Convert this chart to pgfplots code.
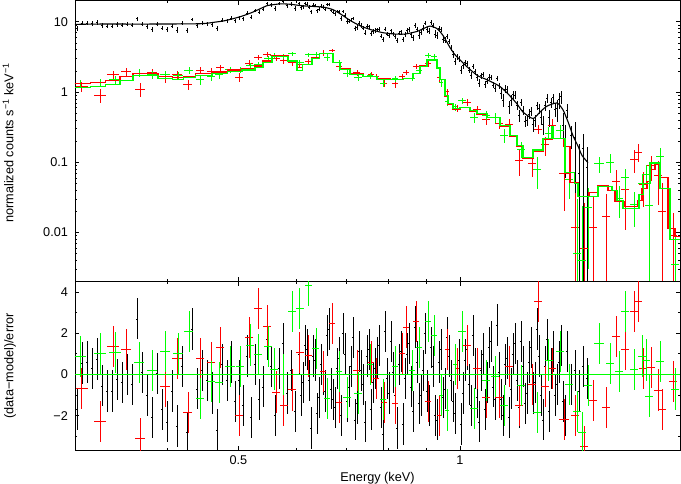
\documentclass[border=0pt]{standalone}
\usepackage{fontspec}
\setmainfont{Liberation Sans}
\usepackage{pgfplots}
\usepackage{pgfplotstable}
\pgfplotsset{compat=1.18}

\pgfplotstableread{
E dx F ep em r
0.3019 0.0012 8.10 0.64 0.64 -1.7
0.3067 0.0012 9.60 0.65 0.65 0.55
0.3115 0.0012 9.60 0.65 0.65 0.6
0.3164 0.0012 9.50 0.65 0.65 0.3
0.3214 0.0012 9.80 0.65 0.65 0.75
0.3265 0.0012 8.94 0.65 0.65 -0.55
0.3316 0.0012 8.78 0.65 0.65 -0.8
0.3369 0.0012 8.78 0.65 0.65 -0.8
0.3422 0.0012 9.14 0.65 0.65 -0.25
0.3476 0.0012 9.04 0.65 0.65 -0.4
0.3531 0.0012 9.30 0.65 0.65 0.0
0.3586 0.0012 8.97 0.65 0.65 -0.5
0.3643 0.0012 11.06 0.65 0.65 2.7
0.3700 0.0012 9.37 0.65 0.65 0.1
0.3759 0.0012 8.65 0.65 0.65 -1.0
0.3818 0.0012 7.93 0.65 0.65 -2.1
0.3878 0.0012 9.33 0.65 0.65 0.05
0.3939 0.0012 8.20 0.65 0.65 -1.7
0.4001 0.0012 7.80 0.65 0.65 -2.3
0.4064 0.0012 8.78 0.65 0.65 -0.8
0.4128 0.0012 7.67 0.65 0.65 -2.5
0.4194 0.0012 9.56 0.65 0.65 0.4
0.4260 0.0012 7.52 0.65 0.65 -2.8
0.4327 0.0012 10.79 0.65 0.65 2.2
0.4395 0.0012 8.94 0.66 0.66 -0.7
0.4465 0.0012 9.58 0.66 0.66 0.2
0.4535 0.0012 9.40 0.67 0.67 -0.3
0.4606 0.0012 9.18 0.69 0.69 -0.9
0.4679 0.0012 8.10 0.70 0.70 -2.7
0.4753 0.0012 10.66 0.72 0.72 0.5
0.4828 0.0012 10.38 0.74 0.74 -0.3
0.4888 0.002 11.40 0.66 0.66 0.6
0.4950 0.002 10.42 0.68 0.68 -1.3
0.5012 0.002 11.49 0.70 0.70 -0.3
0.5075 0.002 11.10 0.73 0.73 -1.5
0.5139 0.002 13.39 0.76 0.76 0.9
0.5203 0.002 11.62 0.80 0.80 -2.1
0.5269 0.002 14.42 0.84 0.84 0.5
0.5335 0.002 13.73 0.89 0.89 -1.2
0.5402 0.002 15.13 0.94 0.94 -0.6
0.5470 0.002 18.18 0.99 0.99 1.7
0.5539 0.002 17.51 1.03 1.03 0.4
0.5609 0.002 15.49 1.06 1.06 -2.0
0.5679 0.002 18.32 1.08 1.08 0.3
0.5751 0.002 19.62 1.08 1.08 1.5
0.5823 0.002 16.93 1.07 1.07 -0.9
0.5896 0.002 17.91 1.06 1.06 0.2
0.5971 0.002 15.52 1.04 1.04 -1.8
0.6046 0.002 18.13 1.03 1.03 1.0
0.6122 0.002 16.49 1.01 1.01 -0.4
0.6199 0.002 17.90 1.00 1.00 1.2
0.6277 0.002 13.93 0.99 0.99 -2.6
0.6356 0.002 17.09 0.98 0.98 0.7
0.6436 0.002 15.22 0.98 0.98 -1.1
0.6517 0.002 16.20 0.97 0.97 0.0
0.6599 0.002 17.60 0.95 0.95 1.9
0.6682 0.002 14.56 0.91 0.91 -0.7
0.6766 0.002 13.11 0.87 0.87 -1.6
0.6851 0.002 13.94 0.80 0.80 0.8
0.6937 0.002 14.02 0.86 0.86 2.0
0.7024 0.002 10.18 0.78 0.78 -1.3
0.7112 0.002 10.59 0.72 0.72 0.4
0.7202 0.002 8.12 0.67 0.67 -2.2
0.7292 0.002 9.69 0.63 0.63 1.1
0.7384 0.002 8.20 0.60 0.60 -0.5
0.7477 0.002 8.61 0.57 0.57 0.9
0.7571 0.0025 6.78 0.54 0.54 -1.7
0.7667 0.0025 7.56 0.52 0.52 0.3
0.7763 0.0025 7.91 0.50 0.50 1.4
0.7861 0.0025 5.58 0.49 0.49 -2.9
0.7960 0.0025 6.75 0.48 0.48 -0.2
0.8060 0.0025 7.51 0.47 0.47 1.6
0.8161 0.0025 6.23 0.47 0.47 -1.0
0.8264 0.0025 6.93 0.47 0.47 0.5
0.8368 0.0025 5.57 0.47 0.47 -2.4
0.8473 0.0025 7.48 0.68 0.68 1.0
0.8580 0.0025 6.58 0.70 0.70 -0.6
0.8688 0.0025 8.86 0.72 0.72 2.3
0.8797 0.0025 6.54 0.76 0.76 -1.4
0.8908 0.0025 8.16 0.80 0.80 0.2
0.9020 0.0025 7.73 0.84 0.84 -0.8
0.9133 0.0025 9.83 0.87 0.87 1.3
0.9248 0.0025 6.72 0.84 0.84 -2.0
0.9365 0.0025 8.06 0.76 0.76 0.6
0.9483 0.0025 5.70 0.64 0.64 -1.1
0.9602 0.0025 6.25 0.53 0.53 1.8
0.9723 0.0025 4.27 0.44 0.44 -0.3
0.9845 0.0025 2.75 0.34 0.34 -1.9
0.9969 0.0025 3.00 0.28 0.28 0.7
1.0094 0.0035 2.37 0.26 0.26 -0.9
1.0221 0.0035 2.58 0.23 0.23 1.2
1.0350 0.0035 1.74 0.205 0.205 -1.5
1.0480 0.0035 1.96 0.19 0.19 0.3
1.0612 0.0035 1.35 0.175 0.175 -2.3
1.0745 0.0035 1.78 0.162 0.162 1.0
1.0880 0.0035 1.44 0.15 0.15 -0.4
1.1017 0.0035 1.62 0.14 0.14 1.6
1.1156 0.0035 1.14 0.13 0.13 -1.2
1.1296 0.0035 1.23 0.122 0.122 0.1
1.1438 0.0035 0.77 0.165 0.165 -2.0
1.1582 0.0035 1.09 0.146 0.146 0.8
1.1728 0.0035 0.77 0.129 0.129 -0.7
1.1876 0.0035 0.91 0.111 0.111 1.5
1.2025 0.0035 0.47 0.093 0.093 -1.6
1.2176 0.0035 0.55 0.078 0.078 0.4
1.2329 0.0035 0.40 0.069 0.069 -0.9
1.2484 0.0035 0.53 0.077 0.077 1.3
1.2641 0.0035 0.40 0.077 0.077 -0.4
1.2800 0.0035 0.58 0.09 0.09 0.9
1.2961 0.0035 0.35 0.104 0.104 -2.2
1.3124 0.0035 0.82 0.113 0.113 1.7
1.3290 0.0035 0.71 0.12 0.12 0.3
1.3457 0.0035 0.57 0.126 0.126 -1.0
1.3626 0.0035 0.78 0.20 0.20 0.6
1.3798 0.0035 0.34 0.17 0.17 -1.3
1.3971 0.0035 0.55 0.12 0.12 1.1
1.4147 0.0035 0.24 0.084 0.084 -0.5
1.4325 0.0035 0.23 0.14 0.2295 0.2
1.4505 0.0035 0.07 0.11 0.0695 -0.8
1.4688 0.0035 0.16 0.09 0.1595 0.4
1.4872 0.0035 0.086 0.08 0.0855 -0.2
0.6084 0.002 15.98 1.02 1.02 -1.0
0.6160 0.002 18.21 1.01 1.01 1.4
0.6238 0.002 16.30 1.00 1.00 -0.3
0.6316 0.002 17.34 0.99 0.99 0.9
0.6396 0.002 14.49 0.98 0.98 -1.9
0.6476 0.002 16.74 0.97 0.97 0.5
0.6558 0.002 15.23 0.96 0.96 -0.8
0.6640 0.002 17.55 0.93 0.93 2.2
0.6724 0.002 13.83 0.89 0.89 -1.2
0.6808 0.002 14.15 0.83 0.83 0.3
0.6894 0.002 11.12 0.84 0.84 -2.0
0.6980 0.002 12.52 0.82 0.82 1.0
0.7068 0.002 10.25 0.75 0.75 -0.6
0.7157 0.002 11.14 0.69 0.69 1.8
0.7247 0.002 8.39 0.65 0.65 -1.4
0.7338 0.002 8.87 0.61 0.61 0.2
0.7430 0.002 6.97 0.58 0.58 -2.3
0.7524 0.0025 8.56 0.55 0.55 1.2
0.7619 0.0025 7.34 0.53 0.53 -0.4
0.7715 0.0025 7.71 0.51 0.51 0.8
0.7812 0.0025 6.30 0.50 0.50 -1.6
0.7910 0.0025 7.93 0.48 0.48 2.1
0.8010 0.0025 6.37 0.48 0.48 -0.9
0.8110 0.0025 6.77 0.47 0.47 0.1
0.8212 0.0025 5.48 0.47 0.47 -2.6
0.8316 0.0025 7.22 0.47 0.47 1.1
0.8420 0.0025 6.63 0.60 0.60 -0.2
0.8526 0.0025 7.83 0.62 0.62 1.5
0.8634 0.0025 5.95 0.64 0.64 -1.8
0.8742 0.0025 7.80 0.67 0.67 0.6
0.8852 0.0025 7.10 0.70 0.70 -1.0
0.8964 0.0025 9.68 0.74 0.74 2.0
0.9076 0.0025 7.39 0.77 0.77 -1.5
0.9190 0.0025 8.86 0.77 0.77 0.4
0.9306 0.0025 6.42 0.72 0.72 -2.2
0.9424 0.0025 7.76 0.63 0.63 1.2
0.9542 0.0025 5.48 0.53 0.53 -0.7
0.9662 0.0025 5.25 0.44 0.44 0.9
0.9784 0.0025 3.44 0.35 0.35 -1.3
0.9907 0.0025 3.19 0.29 0.29 0.3
1.0031 0.0035 2.05 0.27 0.27 -2.4
1.0157 0.0035 2.63 0.25 0.25 0.7
1.0285 0.0035 2.06 0.22 0.22 -0.5
1.0415 0.0035 2.35 0.20 0.20 1.9
1.0546 0.0035 1.62 0.18 0.18 -1.1
1.0678 0.0035 1.71 0.17 0.17 0.2
1.0812 0.0035 1.29 0.16 0.16 -1.7
1.0948 0.0035 1.64 0.145 0.145 1.3
1.1086 0.0035 1.27 0.135 0.135 -0.6
1.1226 0.0035 1.56 0.126 0.126 2.4
1.1367 0.0035 0.96 0.17 0.17 -1.2
1.1510 0.0035 1.11 0.155 0.155 0.5
1.1655 0.0035 0.62 0.137 0.137 -2.1
1.1802 0.0035 0.92 0.12 0.12 1.0
1.1950 0.0035 0.65 0.10 0.10 -0.3
1.2100 0.0035 0.71 0.085 0.085 1.6
1.2252 0.0035 0.39 0.074 0.074 -1.4
1.2406 0.0035 0.49 0.08 0.08 0.6
1.2563 0.0035 0.35 0.076 0.076 -0.9
1.2720 0.0035 0.64 0.083 0.083 2.2
1.2880 0.0035 0.44 0.097 0.097 -1.0
1.3042 0.0035 0.64 0.108 0.108 0.4
1.3207 0.0035 0.44 0.117 0.117 -1.8
1.3373 0.0035 0.83 0.124 0.124 1.1
1.3541 0.0035 0.58 0.20 0.20 -0.5
1.3712 0.0035 0.86 0.18 0.18 1.4
1.3884 0.0035 0.20 0.14 0.14 -2.0
}\blackdata

\pgfplotstableread{
E dx F ep em r
0.3066 0.006 1.19 0.20 0.20 -0.7
0.3245 0.006 0.89 0.20 0.20 -2.3
0.3379 0.006 1.78 0.22 0.22 1.35
0.3519 0.006 1.94 0.23 0.23 1.2
0.3677 0.006 1.10 0.26 0.26 -3.1
0.3817 0.006 1.90 0.24 0.24 0.2
0.3976 0.006 1.56 0.22 0.22 -0.6
0.4128 0.006 1.76 0.21 0.21 0.78
0.4272 0.006 1.28 0.22 0.22 -1.85
0.4436 0.006 2.02 0.22 0.22 0.78
0.4591 0.006 1.98 0.22 0.22 0.57
0.4722 0.006 2.23 0.23 0.23 1.3
0.5011 0.007 1.61 0.23 0.23 -2.0
0.5169 0.007 2.59 0.24 0.24 1.8
0.5317 0.007 3.10 0.24 0.24 3.2
0.5469 0.007 3.42 0.28 0.28 2.35
0.5624 0.007 3.02 0.29 0.29 -0.85
0.5765 0.007 2.83 0.29 0.29 -1.5
0.5913 0.007 2.64 0.25 0.25 -0.75
0.6062 0.007 2.47 0.22 0.22 1.08
0.6235 0.007 2.71 0.25 0.25 0.9
0.6515 0.007 3.59 0.32 0.32 0.16
0.6701 0.007 3.95 0.18 0.18 2.48
0.6850 0.007 2.28 0.26 0.26 -1.35
0.7246 0.008 1.89 0.19 0.19 0.2
0.7573 0.008 1.79 0.17 0.17 0.6
0.7693 0.008 1.66 0.17 0.17 -0.2
0.7886 0.008 1.34 0.16 0.16 -1.35
0.8162 0.008 1.31 0.15 0.15 -1.4
0.8343 0.008 1.67 0.15 0.15 1.0
0.8448 0.008 1.93 0.16 0.16 2.3
0.8715 0.008 2.32 0.19 0.19 2.56
0.9048 0.008 2.52 0.26 0.26 -1.3
0.9364 0.007 1.60 0.20 0.20 -2.0
0.9601 0.007 1.01 0.11 0.11 1.2
0.9906 0.007 0.59 0.074 0.074 0.3
1.0221 0.012 0.71 0.078 0.078 1.4
1.0546 0.012 0.56 0.075 0.075 0.3
1.0847 0.012 0.41 0.067 0.067 -1.1
1.1298 0.014 0.36 0.065 0.065 -1.1
1.1655 0.014 0.35 0.06 0.06 0.4
1.2027 0.014 0.106 0.043 0.043 -1.5
1.2524 0.015 0.095 0.034 0.034 -0.5
1.2762 0.015 0.297 0.043 0.043 3.55
1.3043 0.015 0.178 0.053 0.053 -0.6
1.3333 0.015 0.33 0.078 0.078 0.3
1.3843 0.02 0.07 0.05 0.05 -2.17
1.4328 0.02 0.012 0.025 0.0115 -2.0
1.4739 0.02 0.006 0.02 0.0055 -3.5
1.5159 0.02 0.012 0.02 0.0115 -1.25
1.5788 0.022 0.017 0.019 0.0165 -1.6
1.6289 0.022 0.054 0.025 0.025 1.83
1.6753 0.022 0.041 0.03 0.03 1.23
1.7232 0.022 0.11 0.04 0.04 3.07
1.7449 0.022 0.14 0.04 0.04 3.55
1.7728 0.022 0.048 0.025 0.025 0.3
1.8173 0.022 0.09 0.035 0.035 0.33
1.8575 0.022 0.065 0.04 0.04 -0.76
1.8810 0.022 0.02 0.03 0.0195 -1.7
1.9468 0.022 0.009 0.01 0.0085 -0.36
}\reddata

\pgfplotstableread{
E dx F ep em r
0.3047 0.006 1.31 0.17 0.17 0.88
0.3245 0.006 1.37 0.18 0.18 1.0
0.3401 0.006 1.49 0.19 0.19 1.05
0.3666 0.006 1.87 0.24 0.24 0.58
0.3817 0.006 1.78 0.24 0.24 0.2
0.3976 0.006 1.79 0.20 0.20 1.1
0.4141 0.006 1.72 0.20 0.20 1.0
0.4285 0.006 2.03 0.21 0.21 2.07
0.4436 0.006 1.49 0.21 0.21 -1.15
0.4591 0.006 1.66 0.21 0.21 -0.35
0.4707 0.006 1.76 0.22 0.22 -0.4
0.4872 0.007 2.08 0.22 0.22 0.4
0.5026 0.007 2.07 0.22 0.22 0.37
0.5186 0.007 2.38 0.23 0.23 1.43
0.5317 0.007 2.45 0.22 0.22 0.98
0.5487 0.007 2.99 0.26 0.26 1.35
0.5590 0.007 3.27 0.29 0.29 0.26
0.5765 0.007 3.20 0.29 0.29 0.0
0.5913 0.007 3.50 0.25 0.25 3.05
0.6062 0.007 2.64 0.20 0.20 3.2
0.6235 0.007 3.40 0.22 0.22 4.3
0.6374 0.007 3.40 0.27 0.27 1.26
0.6597 0.007 3.13 0.32 0.32 -1.17
0.6850 0.007 2.63 0.26 0.26 0.13
0.7024 0.008 1.86 0.21 0.21 -1.13
0.7270 0.008 1.64 0.18 0.18 -0.9
0.7549 0.008 1.73 0.17 0.17 0.5
0.7861 0.008 1.34 0.15 0.15 -1.2
0.8161 0.008 1.56 0.15 0.15 0.4
0.8606 0.008 1.58 0.155 0.155 0.2
0.8797 0.008 2.06 0.18 0.18 1.3
0.9048 0.008 3.30 0.26 0.26 2.56
0.9220 0.008 3.20 0.26 0.26 1.9
0.9423 0.007 1.35 0.15 0.15 -1.0
0.9601 0.007 0.73 0.10 0.10 -1.73
0.9845 0.007 0.615 0.07 0.07 0.5
1.0063 0.012 0.75 0.072 0.072 2.07
1.0450 0.012 0.43 0.072 0.072 -1.65
1.0847 0.012 0.47 0.069 0.069 -0.28
1.1156 0.013 0.43 0.066 0.066 -0.1
1.1476 0.014 0.245 0.056 0.056 -1.52
1.2100 0.014 0.155 0.039 0.039 -0.52
1.2721 0.015 0.08 0.038 0.038 -1.85
1.3207 0.015 0.26 0.055 0.055 0.7
1.3670 0.016 0.28 0.055 0.055 1.1
1.4061 0.018 0.058 0.028 0.028 -0.47
1.4420 0.02 0.005 0.025 0.0045 -1.8
1.4647 0.02 0.004 0.02 0.0035 -2.82
1.4924 0.02 0.023 0.02 0.02 -0.52
1.5446 0.022 0.095 0.025 0.025 1.5
1.5985 0.022 0.10 0.03 0.03 0.53
1.6441 0.022 0.031 0.015 0.015 0.13
1.6753 0.022 0.06 0.02 0.02 3.05
1.7232 0.022 0.025 0.013 0.013 0.24
1.7668 0.022 0.05 0.018 0.018 0.89
1.7890 0.022 0.068 0.025 0.025 0.7
1.8058 0.022 0.024 0.025 0.0235 -1.05
1.8691 0.022 0.12 0.04 0.04 0.62
1.9590 0.022 0.0035 0.006 0.003 -0.71
}\greendata

\pgfplotstableread{
E M
0.3000 9.2
0.3244 9.3
0.3794 9.3
0.4436 9.4
0.4648 9.9
0.4797 10.4
0.5026 11.8
0.5219 13.6
0.5384 15.8
0.5469 17.0
0.5696 18.0
0.5877 17.8
0.6119 16.9
0.6515 16.2
0.6722 14.9
0.6893 12.8
0.7090 10.5
0.7315 8.8
0.7549 7.8
0.7861 7.0
0.8161 6.7
0.8422 6.7
0.8742 7.3
0.8963 8.2
0.9105 8.7
0.9307 8.0
0.9482 6.4
0.9693 4.3
0.9845 3.4
1.0094 2.6
1.0317 2.1
1.0579 1.7
1.0880 1.5
1.1333 1.2
1.1693 0.88
1.1950 0.68
1.2176 0.52
1.2563 0.42
1.2842 0.52
1.3124 0.63
1.3544 0.70
1.3798 0.56
1.4016 0.38
1.4238 0.24
1.4465 0.17
1.4647 0.125
1.4924 0.099
}\blackmodel

\pgfplotstableread{
E M
0.3000 1.33
0.3145 1.36
0.3296 1.48
0.3454 1.66
0.3597 1.85
0.3890 1.69
0.4064 1.60
0.4207 1.69
0.4367 1.85
0.4605 1.93
0.4827 2.06
0.5058 2.16
0.5268 2.35
0.5401 2.77
0.5555 3.27
0.5840 2.83
0.6006 2.23
0.6119 2.49
0.6295 3.10
0.6454 3.54
0.6722 2.63
0.6871 2.16
0.7090 1.85
0.7384 1.69
0.7716 1.55
0.8034 1.52
0.8369 1.57
0.8633 1.85
0.8825 2.35
0.9020 2.86
0.9307 2.23
0.9394 1.52
0.9542 0.88
0.9632 0.667
0.9782 0.566
1.0000 0.60
1.0317 0.535
1.0546 0.48
1.0880 0.43
1.1333 0.327
1.1693 0.235
1.1950 0.17
1.2176 0.112
1.2563 0.144
1.2963 0.21
1.3333 0.31
1.3414 0.22
1.3843 0.17
1.4105 0.051
1.4465 0.033
1.4971 0.037
1.5398 0.0465
1.5885 0.040
1.6236 0.028
1.6700 0.0235
1.7449 0.029
1.7668 0.042
1.7946 0.053
1.8115 0.079
1.8401 0.093
1.8691 0.060
1.9165 0.0116
1.9590 0.0088
1.9900 0.0088
}\redmodel

\pgfplotstableread{
E M
0.3000 1.155
0.3145 1.19
0.3296 1.29
0.3454 1.48
0.3597 1.73
0.3890 1.57
0.4064 1.52
0.4207 1.60
0.4367 1.73
0.4605 1.85
0.4827 1.99
0.5058 2.06
0.5268 2.23
0.5401 2.63
0.5555 3.20
0.5840 2.77
0.6006 2.00
0.6119 2.45
0.6295 3.05
0.6454 3.50
0.6722 2.60
0.6871 2.10
0.7090 1.80
0.7384 1.65
0.7716 1.52
0.8034 1.50
0.8369 1.55
0.8633 1.82
0.8825 2.30
0.9020 2.86
0.9307 2.20
0.9394 1.50
0.9542 0.90
0.9632 0.68
0.9782 0.58
1.0000 0.60
1.0317 0.55
1.0546 0.49
1.0880 0.44
1.1333 0.33
1.1693 0.24
1.1950 0.175
1.2176 0.118
1.2563 0.15
1.2963 0.22
1.3333 0.32
1.3414 0.22
1.3886 0.071
1.4325 0.050
1.4465 0.033
1.5398 0.045
1.6085 0.040
1.6338 0.029
1.6648 0.022
1.7503 0.035
1.7728 0.050
1.8115 0.098
1.8691 0.042
1.9285 0.008
1.9900 0.008
}\greenmodel

\begin{document}
\begin{tikzpicture}[x=1pt,y=1pt]
\begin{axis}[
  scale only axis, width=605pt, height=281pt,
  at={(75pt,202.3pt)}, anchor=south west,
  xmode=log, ymode=log,
  xmin=0.3, xmax=1.99, ymin=0.002, ymax=20,
  axis line style={line width=0.9pt},
  major tick length=4.5pt, minor tick length=2.5pt,
  every tick/.style={black, line width=0.7pt},
  xtick={0.5,1}, minor xtick={0.3,0.4,0.6,0.7,0.8,0.9},
  xticklabels={},
  ytick={0.01,0.1,1,10}, yticklabels={0.01,0.1,1,10},
  minor ytick={0.003,0.004,0.005,0.006,0.007,0.008,0.009,0.02,0.03,0.04,0.05,0.06,0.07,0.08,0.09,0.2,0.3,0.4,0.5,0.6,0.7,0.8,0.9,2,3,4,5,6,7,8,9,20},
  tick label style={font=\fontsize{12.7}{15}\selectfont},
  yticklabel style={xshift=-3.5pt},
  ]
\addplot[black, only marks, mark options={draw=none,fill=none}, mark size=0pt,
  error bars/x dir=both, error bars/x explicit, error bars/y dir=both, error bars/y explicit,
  error bars/error mark=none, error bars/error bar style={line width=0.55pt}]
  table[x=E, y=F, x error=dx, y error plus=ep, y error minus=em]{\blackdata};
\addplot[red, only marks, mark options={draw=none,fill=none}, mark size=0pt,
  error bars/x dir=both, error bars/x explicit, error bars/y dir=both, error bars/y explicit,
  error bars/error mark=none, error bars/error bar style={line width=0.9pt}]
  table[x=E, y=F, x error=dx, y error plus=ep, y error minus=em]{\reddata};
\addplot[green, only marks, mark options={draw=none,fill=none}, mark size=0pt,
  error bars/x dir=both, error bars/x explicit, error bars/y dir=both, error bars/y explicit,
  error bars/error mark=none, error bars/error bar style={line width=0.9pt}]
  table[x=E, y=F, x error=dx, y error plus=ep, y error minus=em]{\greendata};
\addplot[black, line width=1.1pt, smooth, tension=0.4] table[x=E, y=M]{\blackmodel};
\addplot[red, line width=1.1pt, const plot mark left] table[x=E, y=M]{\redmodel};
\addplot[green, line width=1.1pt, const plot mark left] table[x=E, y=M]{\greenmodel};
\end{axis}

\begin{axis}[
  scale only axis, width=605pt, height=169pt,
  at={(75pt,33.3pt)}, anchor=south west,
  xmode=log,
  xmin=0.3, xmax=1.99, ymin=-3.7, ymax=4.5,
  axis line style={line width=0.9pt},
  major tick length=4.5pt, minor tick length=2.5pt,
  every tick/.style={black, line width=0.7pt},
  xtick={0.5,1}, minor xtick={0.3,0.4,0.6,0.7,0.8,0.9},
  xticklabels={0.5,1},
  ytick={-2,0,2,4}, yticklabels={−2,0,2,4},
  minor ytick={-3,-1,1,3},
  tick label style={font=\fontsize{12.7}{15}\selectfont},
  yticklabel style={xshift=-3.5pt},
  xticklabel style={yshift=-1.5pt},
  ]
\addplot[black, only marks, mark options={draw=none,fill=none}, mark size=0pt,
  error bars/x dir=both, error bars/x explicit, error bars/y dir=both, error bars/y fixed=1,
  error bars/error mark=none, error bars/error bar style={line width=0.55pt}]
  table[x=E, y=r, x error=dx]{\blackdata};
\addplot[red, only marks, mark options={draw=none,fill=none}, mark size=0pt,
  error bars/x dir=both, error bars/x explicit, error bars/y dir=both, error bars/y fixed=1,
  error bars/error mark=none, error bars/error bar style={line width=0.9pt}]
  table[x=E, y=r, x error=dx]{\reddata};
\addplot[green, only marks, mark options={draw=none,fill=none}, mark size=0pt,
  error bars/x dir=both, error bars/x explicit, error bars/y dir=both, error bars/y fixed=1,
  error bars/error mark=none, error bars/error bar style={line width=0.9pt}]
  table[x=E, y=r, x error=dx]{\greendata};
\addplot[green, line width=1pt] coordinates {(0.3,0) (1.99,0)};
\end{axis}

\node[anchor=base, font=\fontsize{12.7}{15}\selectfont] at (377.5pt,2.5pt) {Energy (keV)};
\node[anchor=base, rotate=90, font=\fontsize{12.7}{15}\selectfont] at (13.3pt,341pt) {normalized counts s\textsuperscript{−1} keV\textsuperscript{−1}};
\node[anchor=base, rotate=90, font=\fontsize{12.7}{15}\selectfont] at (13.3pt,118pt) {(data−model)/error};

\pgfresetboundingbox
\path[use as bounding box] (0,0) rectangle (681pt,484pt);
\end{tikzpicture}
\end{document}
